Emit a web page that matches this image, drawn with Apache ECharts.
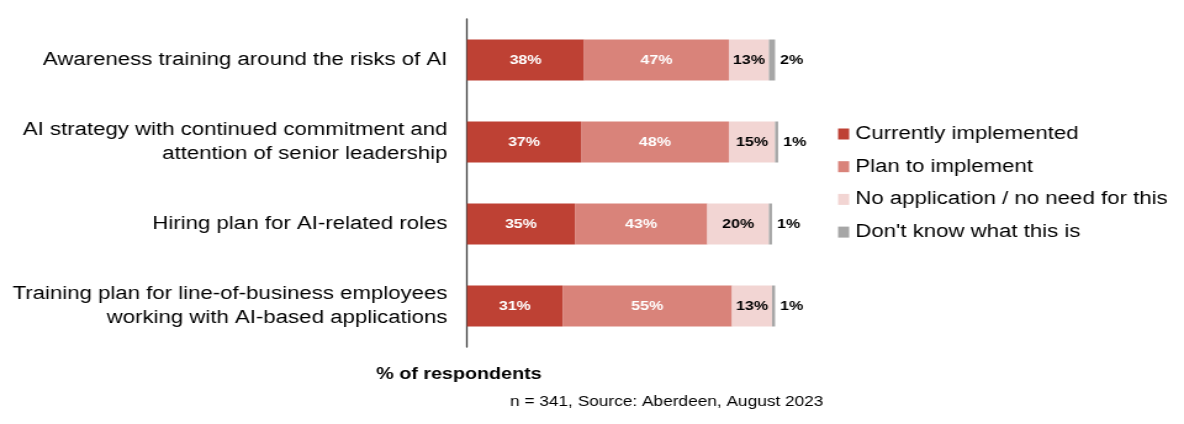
<!DOCTYPE html>
<html><head><meta charset="utf-8">
<script src="https://cdn.jsdelivr.net/npm/echarts@6/dist/echarts.min.js"></script>
<style>
html,body{margin:0;padding:0;background:#fff;overflow:hidden}
#c{width:960px;height:424px;transform:scaleX(1.23333);transform-origin:0 0}
</style>
</head><body><div id="c"></div>
<script>
const categories = [
  "Awareness training around the risks of AI",
  "AI strategy with continued commitment and\nattention of senior leadership",
  "Hiring plan for AI-related roles",
  "Training plan for line-of-business employees\nworking with AI-based applications"
];
const seriesNames = ["Currently implemented","Plan to implement","No application / no need for this","Don't know what this is"];
const currentlyImplemented = [38, 37, 35, 31];
const planToImplement = [47, 48, 43, 55];
const noApplication = [13, 15, 20, 13];
const dontKnow = [2, 1, 1, 1];
const colors = ["#BE4134", "#D9837A", "#F2D5D3", "#A6A6A6"];
const values = [currentlyImplemented, planToImplement, noApplication, dontKnow];
const labelColors = ["#ffffff", "#ffffff", "#000000", "#000000"];
const FONT = 'Liberation Sans, Arial, sans-serif';

const series = values.map((v, i) => ({
  name: seriesNames[i],
  type: 'bar',
  stack: 'total',
  barWidth: '50%',
  data: v,
  itemStyle: { color: colors[i] },
  label: {
    show: true,
    position: i === 3 ? 'right' : 'inside',
    distance: i === 3 ? 4 : 5,
    formatter: '{c}%',
    color: labelColors[i],
    fontFamily: FONT,
    fontWeight: 'bold',
    fontSize: 13
  }
}));

const chart = echarts.init(document.getElementById('c'), null, {renderer: 'canvas'});
chart.setOption({
  animation: false,
  textStyle: { fontFamily: FONT },
  grid: { left: 378.7, top: 19, width: 274.7, height: 328, containLabel: false },
  xAxis: {
    type: 'value', min: 0, max: 110,
    show: false
  },
  yAxis: {
    type: 'category',
    data: categories,
    inverse: true,
    axisLine: { show: true, lineStyle: { color: '#404040', width: 1.3 } },
    axisTick: { show: false },
    axisLabel: {
      color: '#000', fontSize: 18, margin: 16, lineHeight: 24,
      fontFamily: FONT, align: 'right'
    }
  },
  legend: {
    orient: 'vertical',
    left: 679.5, top: 124, padding: 0,
    itemWidth: 9, itemHeight: 11, itemGap: 12.7,
    icon: 'rect',
    textStyle: { fontSize: 18, lineHeight: 20, color: '#000', fontFamily: FONT },
    data: seriesNames
  },
  graphic: [
    { type: 'text', left: 305, top: 367, style: { text: '% of respondents', font: 'bold 16px ' + FONT, fill: '#000' } },
    { type: 'text', left: 413.5, top: 395, style: { text: 'n = 341, Source: Aberdeen, August 2023', font: '14px ' + FONT, fill: '#000' } }
  ],
  series: series
});
</script></body></html>
